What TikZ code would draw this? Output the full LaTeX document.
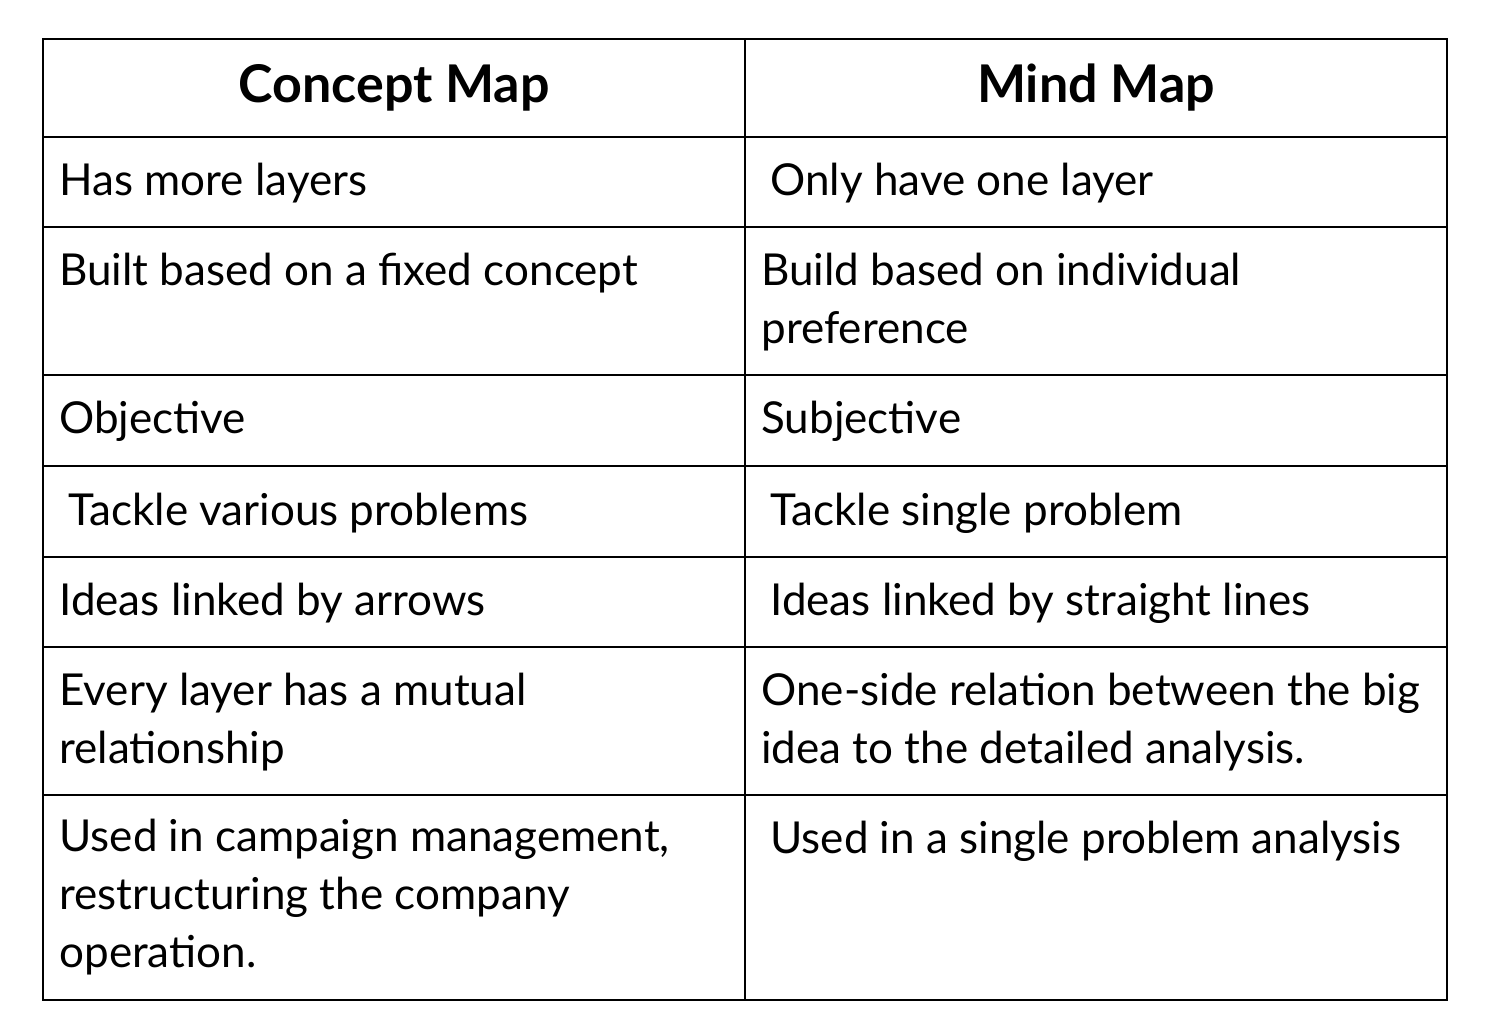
\documentclass[tikz,border=0pt]{standalone}
\usepackage{fontspec}
\setmainfont{Lato}
\usetikzlibrary{positioning}

\begin{document}
\begin{tikzpicture}[
    x=0.5pt, y=-0.5pt,
    grid/.style={line width=1pt, black},
    head/.style={anchor=center, font=\fontsize{26}{30}\selectfont\bfseries},
    cell/.style={anchor=base west, inner sep=0pt, align=left,
        font=\fontsize{22}{29}\selectfont}
]
\useasboundingbox (0,0) rectangle (1490,1036);

% ===== table lines =====
\draw[grid] (43,39) rectangle (1447,1000);
\draw[grid] (745,39) -- (745,1000);
\foreach \y in {137,227,375,466,557,647,795} {
    \draw[grid] (43,\y) -- (1447,\y);
}

% ===== header =====
\node[head] (hconcept) at (394,88) {Concept Map};
\node[head] (hmind) at (1096,88) {Mind Map};

% ===== left column =====
\node[cell] (c1) at (59,196) {Has more layers};
\node[cell] (c2) at (59,286) {Built based on a fixed concept};
\node[cell] (c3) at (59,434) {Objective};
\node[cell] (c4) at (68,526) {Tackle various problems};
\node[cell] (c5) at (59,616) {Ideas linked by arrows};
\node[cell] (c6) at (59,764) {Every layer has a mutual\\relationship};
\node[cell] (c7) at (59,968) {Used in campaign management,\\restructuring the company\\operation.};

% ===== right column =====
\node[cell] (m1) at (770,196) {Only have one layer};
\node[cell] (m2) at (761,344) {Build based on individual\\preference};
\node[cell] (m3) at (761,434) {Subjective};
\node[cell] (m4) at (770,526) {Tackle single problem};
\node[cell] (m5) at (770,616) {Ideas linked by straight lines};
\node[cell] (m6) at (761,764) {One-side relation between the big\\idea to the detailed analysis.};
\node[cell] (m7) at (770,854) {Used in a single problem analysis};

\end{tikzpicture}
\end{document}
